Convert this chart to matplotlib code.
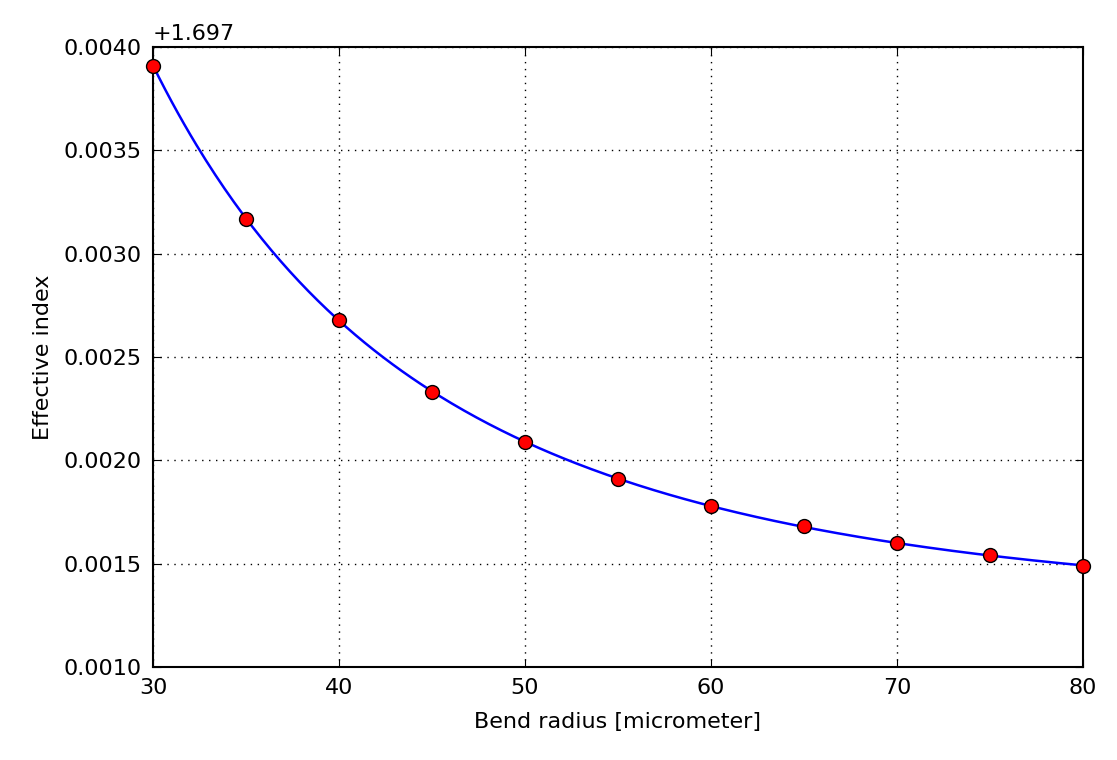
import numpy as np
import matplotlib
matplotlib.use("Agg")
import matplotlib.pyplot as plt

offset = 1.697
radius = np.array([30, 35, 40, 45, 50, 55, 60, 65, 70, 75, 80])
neff_delta = np.array([0.00391, 0.00317, 0.00268, 0.00233, 0.00209, 0.00191,
                       0.00178, 0.00168, 0.00160, 0.00154, 0.00149])
neff = offset + neff_delta

# smooth fit through the samples (polynomial in 1/R)
coef = np.polyfit(1.0 / radius, neff, 3)
r_fine = np.linspace(radius.min(), radius.max(), 300)
fit = np.polyval(coef, 1.0 / r_fine)

fig = plt.figure(figsize=(11.17, 7.6), dpi=100)
ax = fig.add_axes([153/1117, 1 - 667/760, (1083-153)/1117, (667-47)/760])
ax.plot(r_fine, fit, color="blue", lw=1.8)
ax.plot(radius, neff, "o", color="red", mec="black", ms=10, clip_on=False, zorder=3)

ax.set_xlim(30, 80)
ax.set_ylim(offset + 0.001, offset + 0.004)
ax.set_yticks(offset + np.arange(0.001, 0.00401, 0.0005))
ax.yaxis.set_major_formatter(plt.FuncFormatter(lambda v, p: f"{v - offset:.4f}"))
ax.text(0, 1.005, "+1.697", transform=ax.transAxes, fontsize=16, va="bottom")

ax.grid(True, color="black", linestyle=(0, (1, 4)), lw=1)
ax.tick_params(direction="in", top=True, right=True, labelsize=16, length=6, pad=8)
for s in ax.spines.values():
    s.set_linewidth(1.5)
ax.set_xlabel("Bend radius [micrometer]", fontsize=16, labelpad=10)
ax.set_ylabel("Effective index", fontsize=16, labelpad=8)

fig.savefig("out.png", dpi=100)
